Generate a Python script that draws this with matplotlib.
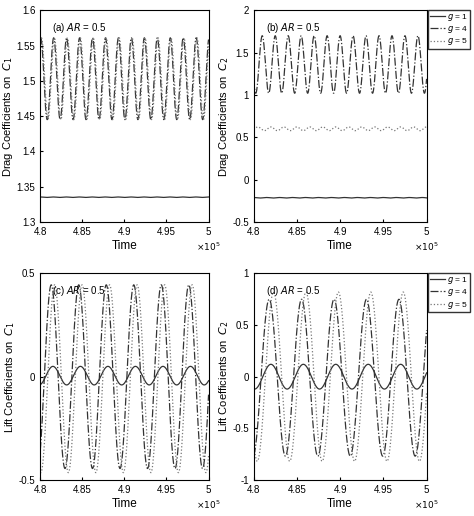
import numpy as np
import matplotlib.pyplot as plt

plt.rcParams['font.family'] = ['Liberation Sans', 'DejaVu Sans']
plt.rcParams['font.size'] = 8

labels = ["$g$ = 1", "$g$ = 4", "$g$ = 5"]
styles = ["-", "-.", ":"]
colors = ["#333333", "#333333", "#777777"]

# per panel: mean, amplitude, period, time of first peak for g=1, g=4, g=5
drag_c1_mean = [1.335, 1.503, 1.503]
drag_c1_amp = [0.0003, 0.058, 0.058]
drag_c1_period = [1540, 1540, 1540]
drag_c1_peak = [480000, 480050, 480140]

drag_c2_mean = [-0.215, 1.36, 0.60]
drag_c2_amp = [0.003, 0.34, 0.022]
drag_c2_period = [1500, 1500, 1500]
drag_c2_peak = [480000, 481000, 480500]

lift_c1_mean = [0.005, 0.0, -0.01]
lift_c1_amp = [0.045, 0.445, 0.455]
lift_c1_period = [3270, 3270, 3270]
lift_c1_peak = [481500, 481300, 481700]

lift_c2_mean = [0.0, -0.01, 0.0]
lift_c2_amp = [0.12, 0.76, 0.82]
lift_c2_period = [3750, 3750, 3750]
lift_c2_peak = [482000, 481800, 482300]

panels = [
    ("(a)", "Drag Coefficients on  $C_1$", drag_c1_mean, drag_c1_amp, drag_c1_period, drag_c1_peak,
     (1.3, 1.6), [1.3, 1.35, 1.4, 1.45, 1.5, 1.55, 1.6]),
    ("(b)", "Drag Coefficients on  $C_2$", drag_c2_mean, drag_c2_amp, drag_c2_period, drag_c2_peak,
     (-0.5, 2), [-0.5, 0, 0.5, 1, 1.5, 2]),
    ("(c)", "Lift Coefficients on  $C_1$", lift_c1_mean, lift_c1_amp, lift_c1_period, lift_c1_peak,
     (-0.5, 0.5), [-0.5, 0, 0.5]),
    ("(d)", "Lift Coefficients on  $C_2$", lift_c2_mean, lift_c2_amp, lift_c2_period, lift_c2_peak,
     (-1, 1), [-1, -0.5, 0, 0.5, 1]),
]

t = np.linspace(480000, 500000, 4000)

fig = plt.figure(figsize=(4.74, 5.16), dpi=100)
boxes = [(0.085, 0.57, 0.355, 0.41), (0.535, 0.57, 0.365, 0.41),
         (0.085, 0.07, 0.355, 0.40), (0.535, 0.07, 0.365, 0.40)]

for i, (tag, ylab, mean, amp, per, pk, ylim, yt) in enumerate(panels):
    ax = fig.add_axes(boxes[i])
    for k in range(3):
        y = mean[k] + amp[k] * np.cos(2 * np.pi * (t - pk[k]) / per[k])
        ax.plot(t, y, linestyle=styles[k], color=colors[k], lw=0.9, label=labels[k])
    ax.set_xlim(480000, 500000)
    ax.set_ylim(*ylim)
    ax.set_yticks(yt)
    ax.set_yticklabels([f"{v:g}" for v in yt])
    ax.set_xticks([480000, 485000, 490000, 495000, 500000])
    ax.set_xticklabels(["4.8", "4.85", "4.9", "4.95", "5"])
    ax.tick_params(direction="in", length=2, labelsize=7)
    ax.set_xlabel("Time", fontsize=8.5, labelpad=2)
    ax.set_ylabel(ylab, fontsize=8, labelpad=1)
    ax.text(1.0, -0.09, r"$\times10^5$", transform=ax.transAxes, fontsize=6.5, ha="center", va="top")
    ax.text(0.07, 0.95, tag + " $AR$ = 0.5", transform=ax.transAxes, fontsize=7, va="top")
    if i in (1, 3):
        ax.legend(loc="upper left", bbox_to_anchor=(1.01, 1.0), fontsize=6, frameon=True,
                  fancybox=False, edgecolor="black", handlelength=1.8, borderaxespad=0,
                  labelspacing=0.15, handletextpad=0.2, borderpad=0.2)

plt.savefig("out.png", dpi=100)
